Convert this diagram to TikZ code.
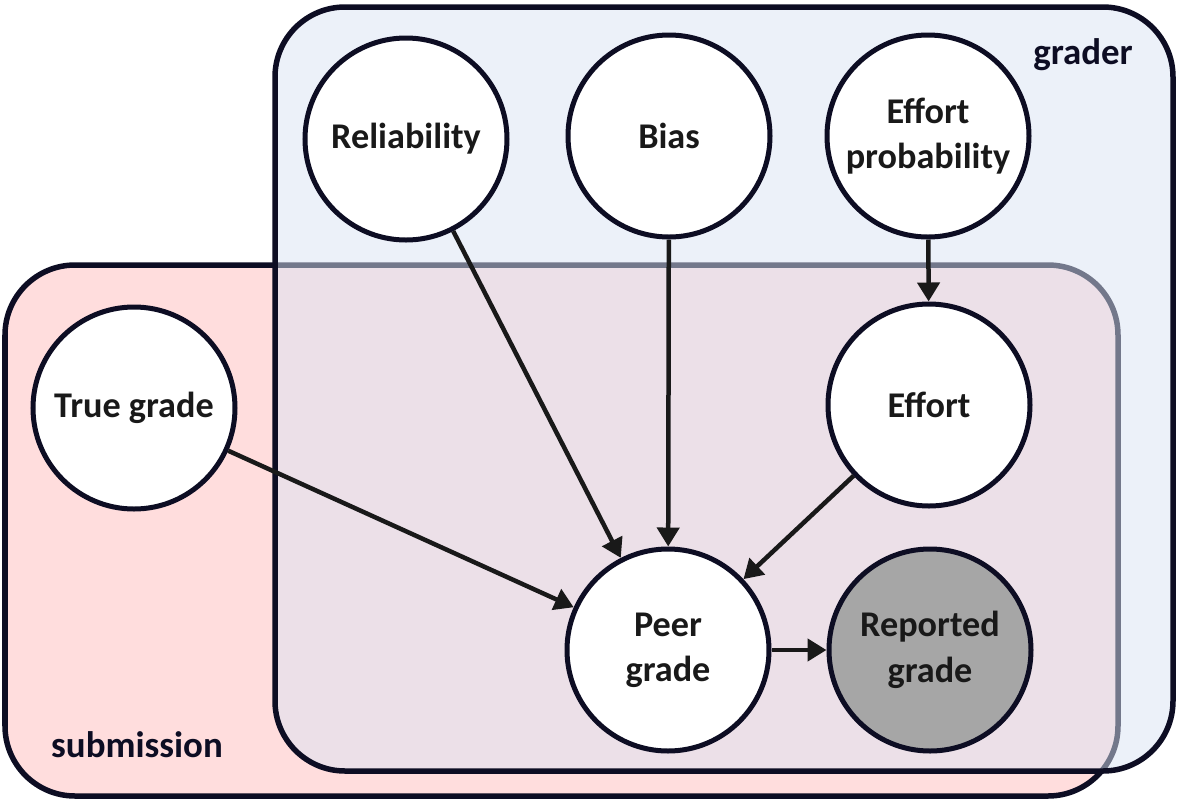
\documentclass[tikz,border=0pt]{standalone}
\usepackage{fontspec}
\setmainfont{Carlito}
\usetikzlibrary{arrows.meta}
\definecolor{platedark}{RGB}{13,13,35}
\definecolor{graderblue}{RGB}{218,227,243}
\definecolor{subpink}{RGB}{255,221,221}
\definecolor{obsgrey}{RGB}{166,166,166}

\begin{document}
\begin{tikzpicture}[x=0.2mm,y=-0.2mm,
  var/.style={circle,draw=platedark,line width=1mm,fill=white,minimum size=40.4mm,
    inner sep=0pt,align=center,font=\fontsize{20.6}{25.8}\selectfont\bfseries,text=black!90},
  obs/.style={var,fill=obsgrey},
  plate/.style={draw=platedark,line width=1.1mm,rounded corners=14mm},
  platelabel/.style={font=\fontsize{21}{25}\selectfont\bfseries,text=platedark},
  dep/.style={line width=0.9mm,draw=black!90,-{Triangle[length=3.8mm,width=4.4mm]}}]
\useasboundingbox (0,0) rectangle (1180,803);
% plates
\draw[plate,fill=subpink] (5,265) rectangle (1118,796);
\draw[plate,fill=graderblue,fill opacity=0.5] (275,7) rectangle (1173,771);
\node[platelabel,anchor=east] (graderlbl) at (1139,55) {grader};
\node[platelabel] (sublbl) at (137,745) {submission};
% grader variables
\node[var] (rel) at (406,139) {Reliability};
\node[var] (bias) at (669,136) {Bias};
\node[var] (effprob) at (928,136) {Effort\\probability};
% submission and per-grading variables
\node[var] (true) at (134,408) {True grade};
\node[var] (effort) at (929,405) {Effort};
\node[var] (peer) at (668,650) {Peer\\grade};
\node[obs] (reported) at (930,650) {Reported\\grade};
% dependencies
\draw[dep] (effprob) -- (effort);
\draw[dep] (rel) -- (peer);
\draw[dep] (bias) -- (peer);
\draw[dep] (effort) -- (peer);
\draw[dep] (true) -- (peer);
\draw[dep] (peer) -- (reported);
\end{tikzpicture}
\end{document}
